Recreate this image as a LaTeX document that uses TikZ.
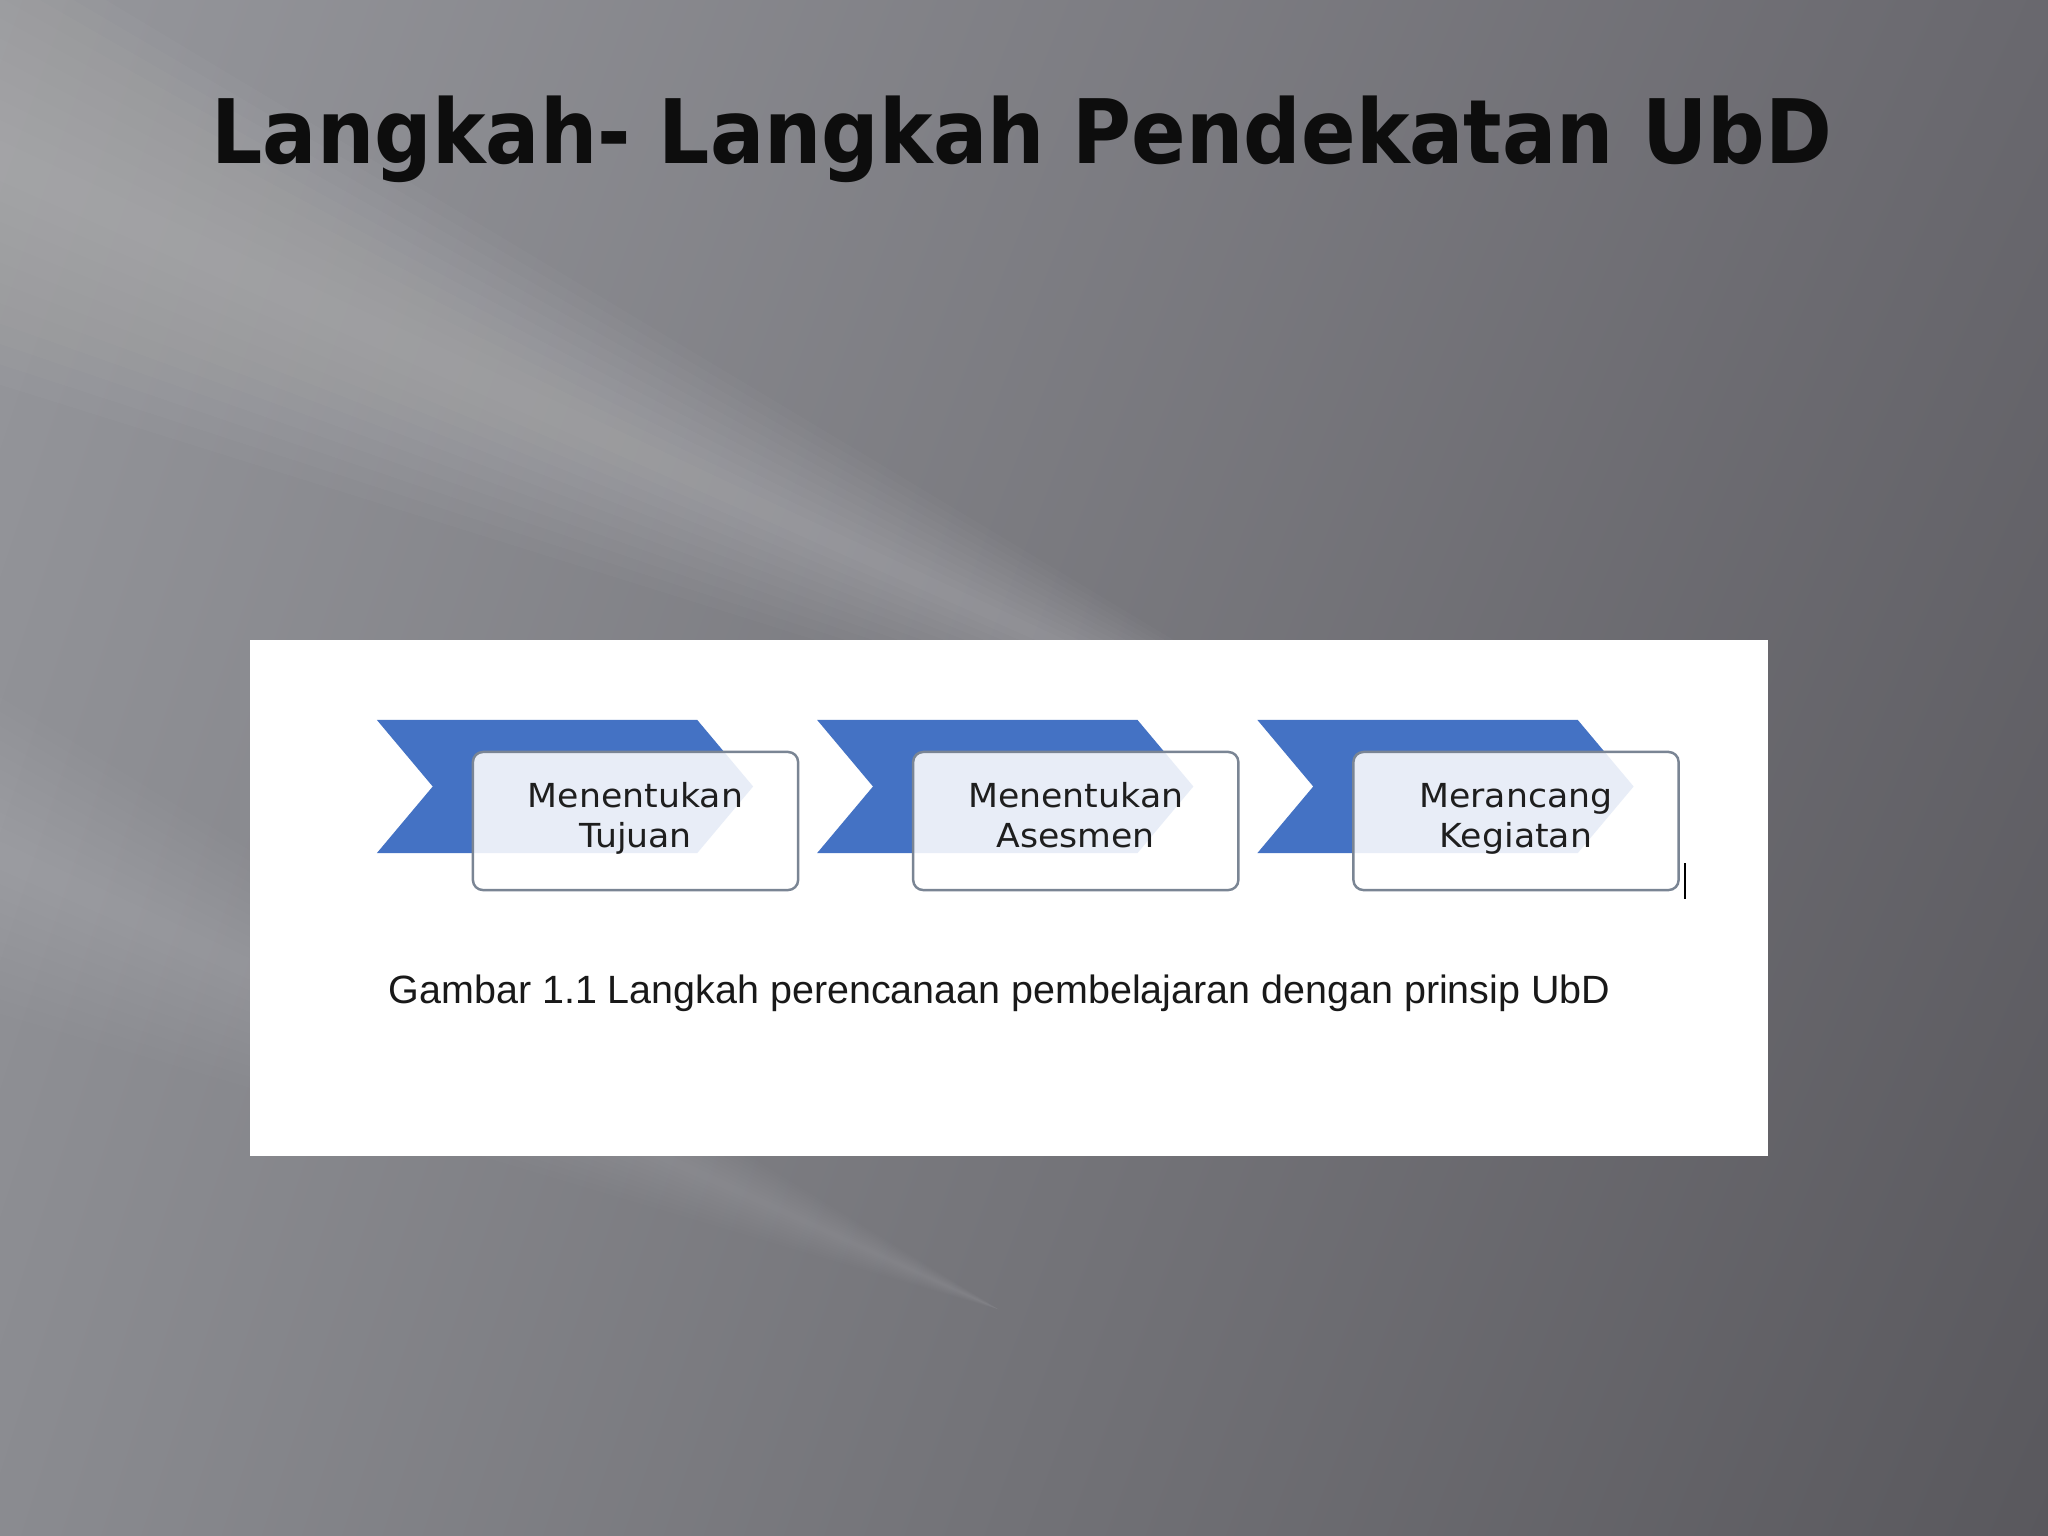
\documentclass[tikz,border=0pt]{standalone}
\usepackage{fontspec}
\setmainfont{Liberation Sans}
\newfontfamily\titlefont[FakeStretch=0.905]{DejaVu Sans}
\newfontfamily\stepfont[FakeStretch=1.05]{DejaVu Sans}
\usepackage{tikz}
\usetikzlibrary{positioning,shapes.symbols,shadings}

\definecolor{bgul}{HTML}{96979C}
\definecolor{bgur}{HTML}{69686E}
\definecolor{bgll}{HTML}{8A8B90}
\definecolor{bglr}{HTML}{59585D}
\definecolor{stepblue}{HTML}{4472C4}
\definecolor{boxline}{HTML}{7A8594}
\definecolor{textdark}{HTML}{1E1E1E}

\begin{document}
\begin{tikzpicture}[
    x=0.01cm, y=-0.01cm,
    every node/.style={inner sep=0pt},
    chevron/.style={signal, signal from=west, signal to=east,
        signal pointer angle=100, fill=stepblue,
        minimum width=3.76cm, minimum height=1.33cm},
    stepbox/.style={draw=boxline, line width=0.7pt, rounded corners=0.1cm,
        fill=white, fill opacity=0.88, text opacity=1,
        minimum width=3.25cm, minimum height=1.38cm, align=center,
        execute at end node=\strut,
        font=\stepfont\fontsize{9.4}{11.4}\selectfont, text=textdark}
]
    \useasboundingbox (0,0) rectangle (2048,1536);

    % slide background
    \begin{scope}
        \clip (0,0) rectangle (2048,1536);
        \shade[upper left=bgul, upper right=bgur, lower left=bgll, lower right=bglr]
            (0,0) rectangle (2048,1536);
        \foreach \f in {0.0833,0.1667,...,1}
            \fill[white, opacity=0.02] (-100,{115-260*\f}) -- (1500,{845-10*\f})
                -- (1500,{845+10*\f}) -- (-100,{115+260*\f}) -- cycle;
        \foreach \f in {0.0833,0.1667,...,1}
            \fill[white, opacity=0.01] (-100,{810-190*\f}) -- (1000,1310)
                -- (-100,{810+190*\f}) -- cycle;
    \end{scope}

    \node (title) [anchor=base west, text=black!95,
        font=\titlefont\bfseries\fontsize{25.3}{30}\selectfont]
        at (211,163) {Langkah- Langkah Pendekatan UbD};

    \node (panel) [fill=white, minimum width=15.17cm, minimum height=5.16cm,
        anchor=north west] at (249,639) {};

    \node (chev1) [chevron] at (565,786.5) {};
    \node (chev2) [chevron] at ([xshift=4.4cm]chev1.center) {};
    \node (chev3) [chevron] at ([xshift=4.4cm]chev2.center) {};

    \node (box1) [stepbox] at ([shift={(70.5,34.5)}]chev1.center) {Menentukan\\Tujuan};
    \node (box2) [stepbox] at ([shift={(70.5,34.5)}]chev2.center) {Menentukan\\Asesmen};
    \node (box3) [stepbox] at ([shift={(70.5,34.5)}]chev3.center) {Merancang\\Kegiatan};

    \coordinate (cursor) at ([shift={(5,-28)}]box3.south east);
    \draw[line width=0.6pt] (cursor) -- ++(0,36);

    \node (caption) [anchor=base west, text=black!90,
        font=\fontsize{11.22}{13}\selectfont]
        at (388,1003) {Gambar 1.1 Langkah perencanaan pembelajaran dengan prinsip UbD};
\end{tikzpicture}
\end{document}
